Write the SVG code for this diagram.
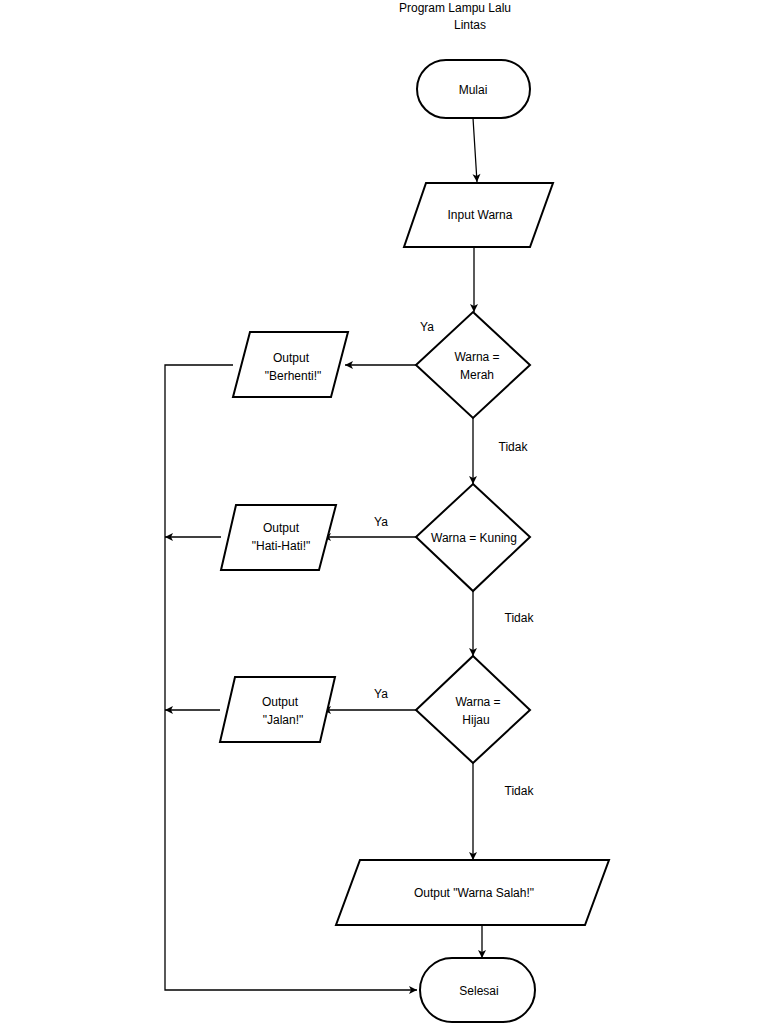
<svg xmlns="http://www.w3.org/2000/svg" width="768" height="1024" viewBox="0 0 768 1024">
<defs><marker id="a" markerWidth="10" markerHeight="10" refX="9" refY="5" orient="auto" markerUnits="userSpaceOnUse"><path d="M1,1 L9,5 L1,9 L3,5 Z" fill="#000"/></marker></defs>
<style>.s{fill:#fff;stroke:#000;stroke-width:2}.t{font-family:"Liberation Sans",Arial,sans-serif;font-size:12px;text-anchor:middle;fill:#000}.c{fill:none;stroke:#000;stroke-width:1.3;marker-end:url(#a)}.l{fill:none;stroke:#000;stroke-width:1.3}</style>
<rect width="768" height="1024" fill="#fff"/>
<g id="title"><text class="t" x="455" y="12">Program Lampu Lalu</text><text class="t" x="470" y="29">Lintas</text></g>
<g id="connectors">
<path class="c" d="M473,118 L477,182"/>
<path class="c" d="M474,247 L474,312"/>
<path class="c" d="M416,365 L345,365"/>
<path class="c" d="M233,365 L165,365 L165,990 L417,990"/>
<path class="c" d="M473,418 L473,484"/>
<path class="c" d="M416,537 L323,537"/>
<path class="c" d="M221,537 L165,537"/>
<path class="c" d="M473,591 L473,656"/>
<path class="c" d="M416,710 L323,710"/>
<path class="c" d="M220,710 L165,710"/>
<path class="c" d="M473,763 L473,860"/>
<path class="c" d="M482,925 L482,958"/>
<text class="t" x="427" y="331">Ya</text>
<text class="t" x="513" y="451">Tidak</text>
<text class="t" x="381" y="526">Ya</text>
<text class="t" x="519" y="622">Tidak</text>
<text class="t" x="381" y="698">Ya</text>
<text class="t" x="519" y="795">Tidak</text>
</g>
<g id="mulai"><rect class="s" x="417" y="60" width="113" height="58" rx="29"/><text class="t" x="473" y="94">Mulai</text></g>
<g id="input"><polygon class="s" points="426,183 553,183 530,247 404,247"/><text class="t" x="480" y="219">Input Warna</text></g>
<g id="d1"><polygon class="s" points="473,312 530,365 473,418 416,365"/><text class="t" x="477" y="361">Warna =</text><text class="t" x="477" y="379">Merah</text></g>
<g id="o1"><polygon class="s" points="250,332 348,332 331,397 233,397"/><text class="t" x="291" y="362">Output</text><text class="t" x="293" y="380">"Berhenti!"</text></g>
<g id="d2"><polygon class="s" points="473,484 530,537 473,591 416,537"/><text class="t" x="474" y="542">Warna = Kuning</text></g>
<g id="o2"><polygon class="s" points="236,505 336,505 319,570 221,570"/><text class="t" x="281" y="532">Output</text><text class="t" x="281" y="550">"Hati-Hati!"</text></g>
<g id="d3"><polygon class="s" points="473,656 530,710 473,763 416,710"/><text class="t" x="478" y="706">Warna =</text><text class="t" x="476" y="724">Hijau</text></g>
<g id="o3"><polygon class="s" points="235,677 335,677 320,742 220,742"/><text class="t" x="280" y="706">Output</text><text class="t" x="283" y="724">"Jalan!"</text></g>
<g id="o4"><polygon class="s" points="360,860 609,860 585,925 336,925"/><text class="t" x="474" y="897">Output "Warna Salah!"</text></g>
<g id="selesai"><rect class="s" x="420" y="958" width="115" height="64" rx="32"/><text class="t" x="479" y="995">Selesai</text></g>
</svg>
